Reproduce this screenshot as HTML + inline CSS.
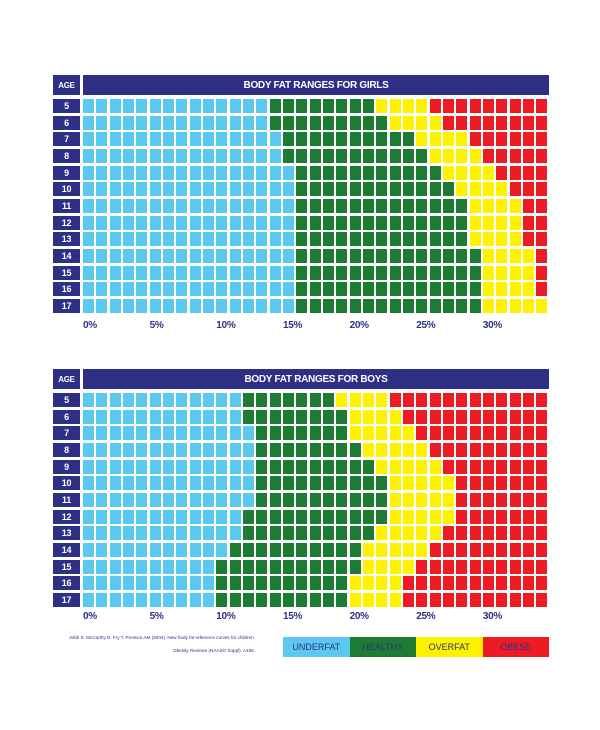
<!DOCTYPE html>
<html><head><meta charset="utf-8">
<style>
body{margin:0;width:600px;height:730px;background:#fff;position:relative;overflow:hidden;font-family:"Liberation Sans",sans-serif}
.a{position:absolute}
.nav{background:#2e3085;color:#fff;font-weight:bold;display:flex;align-items:center;justify-content:center;font-size:10px;letter-spacing:-0.3px}
.c{position:absolute;width:11px;height:14px}
.t{position:absolute;font-size:10px;font-weight:bold;color:#2e3085;letter-spacing:-0.3px}
.lg{position:absolute;top:637px;height:20px;width:66.5px;display:flex;align-items:center;justify-content:center;font-size:9px;color:#2e3085}
</style></head><body>
<div id="root"></div>
<div class="a" style="left:40px;top:631px;width:215px;text-align:right;font-size:4.6px;line-height:13px;color:#2e3085;white-space:nowrap">Jebb S. McCarthy D. Fry T. Prentice AM (2004). New body fat reference curves for children.<br>Obesity Reviews (NAASO Suppl). A156.</div>
<div class="lg" style="left:283px;background:#5bc8f0">UNDERFAT</div>
<div class="lg" style="left:349.5px;background:#1e7b34">HEALTHY</div>
<div class="lg" style="left:416px;background:#fff200">OVERFAT</div>
<div class="lg" style="left:482.5px;background:#ed1c24">OBESE</div>
<script>
var C=['#5bc8f0','#1e7b34','#fff200','#ed1c24'];
var girls=[[14,22,26],[14,23,27],[15,25,29],[15,26,30],[16,27,31],[16,28,32],[16,29,33],[16,29,33],[16,29,33],[16,30,34],[16,30,34],[16,30,34],[16,30,35]];
var boys=[[12,19,23],[12,20,24],[13,20,25],[13,21,26],[13,22,27],[13,23,28],[13,23,28],[12,23,28],[12,22,27],[11,21,26],[10,21,25],[10,20,24],[10,20,24]];
var h='';
function chart(top,title,d,tick){
 h+='<div class="a nav" style="left:53px;top:'+top+'px;width:27px;height:20px;font-size:8px">AGE</div>';
 h+='<div class="a nav" style="left:83px;top:'+top+'px;width:466px;height:20px">'+title+'</div>';
 for(var r=0;r<13;r++){
  var y=top+24+r*16.67;
  h+='<div class="a nav" style="left:53px;top:'+y+'px;width:27px;height:14px;font-size:9px">'+(r+5)+'</div>';
  for(var i=0;i<35;i++){
   var k=i<d[r][0]?0:i<d[r][1]?1:i<d[r][2]?2:3;
   h+='<div class="c" style="left:'+(83+i*13.33)+'px;top:'+y+'px;background:'+C[k]+'"></div>';
  }
 }
 for(var p=0;p<=30;p+=5){h+='<div class="t" style="left:'+(83+p*13.33)+'px;top:'+(tick-6)+'px">'+p+'%</div>';}
}
chart(75,'BODY FAT RANGES FOR GIRLS',girls,326);
chart(369,'BODY FAT RANGES FOR BOYS',boys,617);
document.getElementById('root').innerHTML=h;
</script>
</body></html>
